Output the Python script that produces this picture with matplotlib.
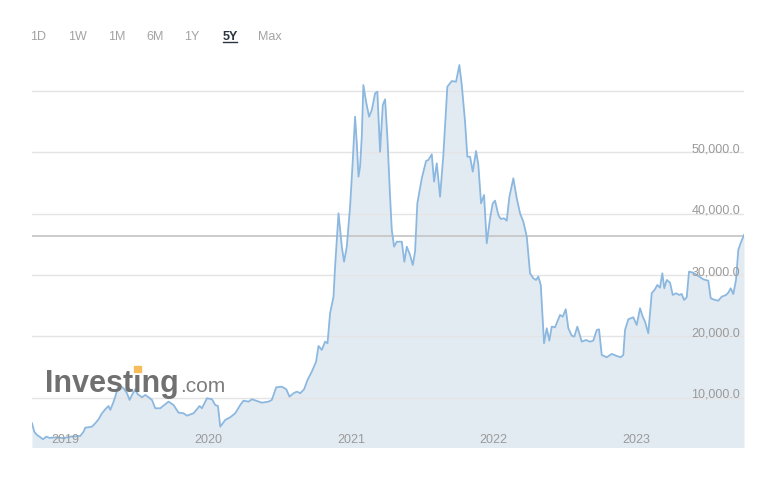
import matplotlib

matplotlib.use("Agg")

import matplotlib.pyplot as plt
import matplotlib.transforms as mtransforms
from matplotlib.patches import Rectangle

# weekly-ish closing prices (decimal year, USD)
years = [
    2018.767, 2018.783, 2018.802, 2018.820, 2018.844, 2018.867, 2018.890, 2018.942,
    2018.988, 2019.035, 2019.105, 2019.128, 2019.140, 2019.187, 2019.210, 2019.233,
    2019.257, 2019.280, 2019.303, 2019.315, 2019.334, 2019.350, 2019.366, 2019.385,
    2019.408, 2019.432, 2019.450, 2019.467, 2019.490, 2019.506, 2019.537, 2019.560,
    2019.583, 2019.607, 2019.630, 2019.665, 2019.723, 2019.758, 2019.793, 2019.828,
    2019.852, 2019.898, 2019.940, 2019.957, 2019.992, 2020.027, 2020.050, 2020.069,
    2020.085, 2020.120, 2020.155, 2020.190, 2020.225, 2020.248, 2020.283, 2020.307,
    2020.341, 2020.376, 2020.423, 2020.446, 2020.477, 2020.516, 2020.547, 2020.570,
    2020.598, 2020.621, 2020.645, 2020.672, 2020.696, 2020.726, 2020.756, 2020.773,
    2020.796, 2020.819, 2020.836, 2020.854, 2020.878, 2020.889, 2020.913, 2020.936,
    2020.952, 2020.971, 2020.994, 2021.013, 2021.029, 2021.041, 2021.053, 2021.064,
    2021.076, 2021.087, 2021.106, 2021.127, 2021.146, 2021.169, 2021.185, 2021.204,
    2021.223, 2021.239, 2021.255, 2021.274, 2021.286, 2021.302, 2021.321, 2021.356,
    2021.374, 2021.391, 2021.414, 2021.433, 2021.449, 2021.465, 2021.496, 2021.526,
    2021.542, 2021.566, 2021.582, 2021.601, 2021.624, 2021.647, 2021.675, 2021.706,
    2021.736, 2021.759, 2021.776, 2021.799, 2021.815, 2021.834, 2021.853, 2021.876,
    2021.892, 2021.911, 2021.932, 2021.951, 2021.974, 2021.993, 2022.009, 2022.032,
    2022.049, 2022.072, 2022.091, 2022.109, 2022.137, 2022.161, 2022.184, 2022.207,
    2022.231, 2022.254, 2022.277, 2022.296, 2022.312, 2022.329, 2022.352, 2022.371,
    2022.389, 2022.406, 2022.429, 2022.464, 2022.483, 2022.504, 2022.522, 2022.546,
    2022.564, 2022.585, 2022.616, 2022.646, 2022.674, 2022.697, 2022.721, 2022.737,
    2022.756, 2022.791, 2022.826, 2022.861, 2022.889, 2022.907, 2022.919, 2022.942,
    2022.977, 2023.001, 2023.024, 2023.043, 2023.059, 2023.082, 2023.106, 2023.129,
    2023.145, 2023.164, 2023.180, 2023.194, 2023.211, 2023.234, 2023.253, 2023.276,
    2023.299, 2023.316, 2023.332, 2023.351, 2023.367, 2023.397, 2023.432, 2023.467,
    2023.502, 2023.519, 2023.549, 2023.572, 2023.596, 2023.626, 2023.642, 2023.659,
    2023.677, 2023.696, 2023.712, 2023.728, 2023.752,
]
prices = [
    5820, 4450, 3910, 3640, 3210, 3640, 3430, 3540,
    3380, 3640, 3750, 4450, 5100, 5270, 5820, 6470,
    7450, 8100, 8640, 8000, 9080, 10160, 11530, 11900,
    11530, 10720, 9620, 10440, 11370, 10600, 10060, 10440,
    10060, 9620, 8270, 8270, 9350, 8800, 7550, 7450,
    7060, 7450, 8640, 8270, 9900, 9740, 8800, 8640,
    5270, 6360, 6800, 7450, 8800, 9510, 9350, 9740,
    9460, 9180, 9350, 9620, 11690, 11790, 11370, 10160,
    10720, 10980, 10720, 11370, 12890, 14240, 15870, 18430,
    17780, 19130, 18870, 23760, 26470, 31360, 40070, 34630,
    32180, 34630, 41150, 48770, 55830, 51490, 46040, 47670,
    52570, 61000, 58270, 55830, 56920, 59640, 59910, 50120,
    57740, 58670, 52570, 42780, 37350, 34630, 35440, 35440,
    32180, 34630, 33270, 31640, 33810, 41700, 45780, 48600,
    48770, 49700, 45230, 48230, 42780, 49580, 60720, 61650,
    61540, 64260, 61000, 55010, 49310, 49310, 46860, 50230,
    47950, 41700, 43060, 35180, 39260, 41700, 42130, 39800,
    39150, 39260, 38870, 42700, 45780, 42520, 40070, 38700,
    36260, 30290, 29470, 29200, 29740, 28380, 18870, 21320,
    19300, 21580, 21480, 23490, 23210, 24420, 21320, 20110,
    19950, 21580, 19130, 19410, 19130, 19300, 21040, 21150,
    16960, 16590, 17130, 16800, 16590, 16960, 21040, 22790,
    23110, 21860, 24580, 23210, 22400, 20500, 27030, 27680,
    28380, 27940, 30290, 27840, 29200, 28760, 26750, 27030,
    26750, 26910, 25930, 26370, 30550, 30390, 29850, 29310,
    29080, 26210, 25930, 25820, 26470, 26750, 27120, 27840,
    26910, 29200, 34090, 35180, 36540,
]

last_price = 36330
grid_values = [10000, 20000, 30000, 40000, 50000, 60000]
y_labels = ["10,000.0", "20,000.0", "30,000.0", "40,000.0", "50,000.0"]
x_ticks = [2019, 2020, 2021, 2022, 2023]
x_labels = ["2019", "2020", "2021", "2022", "2023"]
periods = ["1D", "1W", "1M", "6M", "1Y", "5Y", "Max"]
active_period = "5Y"

plt.rcParams["font.family"] = ["Liberation Sans", "DejaVu Sans"]

W, H = 768, 480
fig = plt.figure(figsize=(W / 100, H / 100), dpi=100)
fig.patch.set_facecolor("white")
ax = fig.add_axes([32 / W, 33 / H, 712 / W, 386.5 / H])
ax.set_xlim(years[0], years[-1])
ax.set_ylim(1950, 65000)
ax.axis("off")

line_color = "#8cb8e0"
ax.fill_between(years, prices, 0, color="#e3ebf2", lw=0, zorder=1)
for v in grid_values:
    ax.axhline(v, color="#e4e4e4", lw=1, zorder=1.5)
ax.axhline(last_price, color="#c4c4c4", lw=1.2, zorder=1.6)
ax.plot(years, prices, color=line_color, lw=1.3, zorder=3)

# value labels sit inside the plot, right aligned, just above each gridline
for v, lab in zip(grid_values, y_labels):
    ax.annotate(lab, xy=(1, v), xycoords=("axes fraction", "data"),
                xytext=(-4, 3), textcoords="offset pixels",
                ha="right", va="center", fontsize=9, color="#9a9a9a", zorder=4)

trans = mtransforms.blended_transform_factory(ax.transData, ax.transAxes)
for t, lab in zip(x_ticks, x_labels):
    ax.text(t, 0.019, lab, transform=trans, ha="center", va="center",
            fontsize=9, color="#9a9a9a", zorder=4)

# period selector row
xpos = [38, 77, 117, 155, 192, 230, 270]
for p, xp in zip(periods, xpos):
    active = p == active_period
    fig.text(xp / W, 1 - 37 / H, p, ha="center", va="center", fontsize=9,
             color="#2a3440" if active else "#a3a3a3",
             fontweight="bold" if active else "normal")
    if active:
        fig.add_artist(plt.Line2D([(xp - 7) / W, (xp + 7) / W],
                                  [1 - 41.5 / H, 1 - 41.5 / H],
                                  color="#2a3440", lw=1))

# watermark
fig.text(45 / W, 1 - 392 / H, "Investing", fontsize=22, fontweight="bold",
         color="#707070", va="baseline", ha="left", zorder=2)
fig.text(180 / W, 1 - 392 / H, ".com", fontsize=15, color="#7c7c7c",
         va="baseline", ha="left", zorder=2)
fig.add_artist(Rectangle((134 / W, 1 - 372 / H), 6.5 / W, 6.5 / H,
                         color="#f6bd5a", transform=fig.transFigure, zorder=2.5))

fig.savefig("out.png", dpi=100)
